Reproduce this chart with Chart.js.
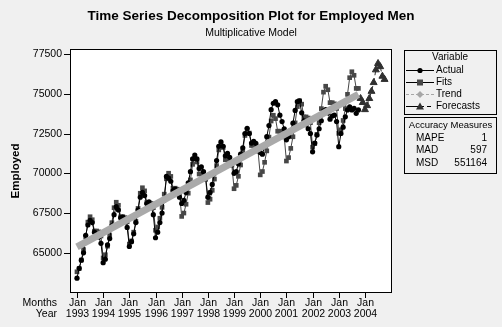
<!DOCTYPE html>
<html>
<head>
<meta charset="utf-8">
<script src="https://cdn.jsdelivr.net/npm/chart.js@4"></script>
<style>
  html, body { margin: 0; padding: 0; background: #f0f0f0; }
  #wrap { width: 502px; height: 327px; }
</style>
</head>
<body>
<div id="wrap"><canvas id="chart" width="502" height="327"></canvas></div>
<script>
// data (month index 0 = Jan 1993)
const actual = [
  63410, 64030, 64540, 65000, 66100, 66750, 67050, 66900, 66300, 66150, 66000, 65600,
  64380, 64600, 65500, 65900, 66700, 67400, 67900, 67700, 67200, 67250, 67000, 66600,
  65400, 65700, 66200, 66900, 67700, 68500, 68800, 68600, 68100, 68200, 67900, 67400,
  65950, 66300, 66900, 67500, 68300, 69800, 69700, 69500, 68900, 69000, 68800, 68500,
  68100, 68300, 68800, 69400, 70100, 70900, 71150, 70900, 70300, 70400, 70100, 69700,
  68500, 68800, 69300, 70000, 70800, 71700, 71980, 71700, 71100, 71250, 71000, 70700,
  70000, 70100, 70600, 71200, 71600, 72500, 72830, 72500, 71900, 72000, 71880, 71650,
  71300, 71200, 71700, 72300, 73000, 74000, 74400, 74500, 74300, 73650, 73250, 72800,
  72100, 72300, 72700, 73150, 73950, 74500, 74550, 73800, 73300, 73050, 72800, 72500,
  71350, 71900, 72400, 72800, 73300, 73900, 74000, 73800, 73400, 73600, 73650, 73250,
  71670, 72500, 72900, 73550, 73980, 74180, 73980, 74080, 73770, 73980
];
const fits = [
  63810, 64010, 64550, 65204, 66000, 66930, 67269, 67081, 66365, 66374, 66316, 66060,
  64680, 64880, 65420, 66091, 66897, 67837, 68181, 67989, 67262, 67271, 67211, 66950,
  65550, 65750, 66300, 66977, 67792, 68746, 69091, 68896, 68159, 68166, 68105, 67839,
  66420, 66625, 67175, 67863, 68689, 69653, 70003, 69804, 69056, 69063, 68999, 68729,
  67290, 67500, 68055, 68749, 69585, 70561, 70914, 70711, 69953, 69958, 69893, 69619,
  68160, 68370, 68930, 69636, 70481, 71469, 71825, 71619, 70850, 70855, 70788, 70509,
  69030, 69240, 69810, 70522, 71377, 72376, 72737, 72527, 71747, 71750, 71682, 71399,
  69900, 70110, 70690, 71408, 72273, 73284, 73647, 73434, 72643, 72646, 72576, 72288,
  70770, 70985, 71565, 72295, 73169, 74191, 74559, 74343, 73541, 73543, 73471, 73178,
  71640, 71860, 72445, 73180, 74065, 75099, 75470, 75251, 74438, 74438, 74364, 74069,
  72510, 72730, 73320, 74067, 74961, 76007, 76381, 76158, 75334, 75335
];
const trendEnds = [65375, 74960]; // linear trend at first and last month
const forecasts = [74700, 74450, 74000, 74250, 74700, 75150, 75700, 76500, 76900, 76700, 76100, 75900];
const years = ['1993', '1994', '1995', '1996', '1997', '1998', '1999', '2000', '2001', '2002', '2003', '2004'];
const yTicks = [65000, 67500, 70000, 72500, 75000, 77500];
const accuracy = [['MAPE', '1'], ['MAD', '597'], ['MSD', '551164']];

const FONT = '"Liberation Sans", Arial, sans-serif';

const actualPts = actual.map((v, i) => ({ x: i, y: v }));
const fitsPts = fits.map((v, i) => ({ x: i, y: v }));
const trendPts = [{ x: 0, y: trendEnds[0] }, { x: actual.length - 1, y: trendEnds[1] }];
const fcPts = forecasts.map((v, i) => ({ x: actual.length + i, y: v }));

// everything around the plot area is drawn here
const decor = {
  id: 'decor',
  beforeDraw(chart) {
    const ctx = chart.ctx, a = chart.chartArea;
    ctx.save();
    ctx.fillStyle = '#f0f0f0';
    ctx.fillRect(0, 0, chart.width, chart.height);
    ctx.fillStyle = '#ffffff';
    ctx.fillRect(a.left, a.top, a.right - a.left, a.bottom - a.top);
    ctx.restore();
  },
  afterDraw(chart) {
    const ctx = chart.ctx, a = chart.chartArea;
    const xs = chart.scales.x, ys = chart.scales.y;
    ctx.save();
    ctx.strokeStyle = '#000';
    ctx.lineWidth = 1;
    ctx.strokeRect(a.left + 0.5, a.top + 0.5, a.right - a.left - 1, a.bottom - a.top);

    ctx.fillStyle = '#000';
    ctx.font = '10.5px ' + FONT;
    // y ticks
    ctx.textAlign = 'right';
    ctx.textBaseline = 'middle';
    yTicks.forEach(v => {
      const py = Math.round(ys.getPixelForValue(v)) + 0.5;
      ctx.beginPath();
      ctx.moveTo(a.left - 6, py);
      ctx.lineTo(a.left, py);
      ctx.stroke();
      ctx.fillText(String(v), a.left - 8, py);
    });
    // x ticks
    ctx.textAlign = 'center';
    years.forEach((yr, i) => {
      const px = Math.round(xs.getPixelForValue(i * 12)) + 0.5;
      ctx.beginPath();
      ctx.moveTo(px, a.bottom);
      ctx.lineTo(px, a.bottom + 6);
      ctx.stroke();
      ctx.fillText('Jan', px, 303);
      ctx.fillText(yr, px, 314);
    });
    ctx.textAlign = 'right';
    ctx.fillText('Months', 57, 303);
    ctx.fillText('Year', 57, 314);

    // titles
    ctx.textAlign = 'center';
    ctx.font = 'bold 13.5px ' + FONT;
    ctx.fillText('Time Series Decomposition Plot for Employed Men', 251, 16);
    ctx.font = '10.5px ' + FONT;
    ctx.fillText('Multiplicative Model', 251, 33);

    ctx.save();
    ctx.translate(16, 171);
    ctx.rotate(-Math.PI / 2);
    ctx.font = 'bold 11.5px ' + FONT;
    ctx.fillText('Employed', 0, 0);
    ctx.restore();

    // legend box
    ctx.strokeRect(404.5, 50.5, 92, 64);
    ctx.strokeRect(404.5, 117.5, 92, 56);
    ctx.font = '10px ' + FONT;
    ctx.textAlign = 'center';
    ctx.fillText('Variable', 450, 57);

    const rows = [70.5, 82.5, 94.5, 106.5];
    ctx.textAlign = 'left';
    // Actual
    ctx.beginPath(); ctx.moveTo(406, rows[0]); ctx.lineTo(434, rows[0]); ctx.stroke();
    ctx.beginPath(); ctx.arc(420, rows[0], 2.6, 0, Math.PI * 2); ctx.fill();
    ctx.fillText('Actual', 436, rows[0]);
    // Fits
    ctx.beginPath(); ctx.moveTo(406, rows[1]); ctx.lineTo(434, rows[1]); ctx.stroke();
    ctx.fillStyle = '#474747';
    ctx.fillRect(417, rows[1] - 3, 6, 6);
    ctx.fillStyle = '#000';
    ctx.fillText('Fits', 436, rows[1]);
    // Trend
    ctx.strokeStyle = '#a6a6a6';
    ctx.setLineDash([3, 2]);
    ctx.beginPath(); ctx.moveTo(406, rows[2]); ctx.lineTo(434, rows[2]); ctx.stroke();
    ctx.setLineDash([]);
    ctx.fillStyle = '#a6a6a6';
    ctx.beginPath();
    ctx.moveTo(420, rows[2] - 3.5); ctx.lineTo(423.5, rows[2]);
    ctx.lineTo(420, rows[2] + 3.5); ctx.lineTo(416.5, rows[2]);
    ctx.closePath(); ctx.fill();
    ctx.fillStyle = '#000';
    ctx.strokeStyle = '#000';
    ctx.fillText('Trend', 436, rows[2]);
    // Forecasts
    ctx.beginPath(); ctx.moveTo(406, rows[3]); ctx.lineTo(424, rows[3]); ctx.stroke();
    ctx.beginPath(); ctx.moveTo(427, rows[3]); ctx.lineTo(431, rows[3]); ctx.stroke();
    ctx.fillStyle = '#303030';
    ctx.beginPath();
    ctx.moveTo(420, rows[3] - 4); ctx.lineTo(424, rows[3] + 3);
    ctx.lineTo(416, rows[3] + 3); ctx.closePath(); ctx.fill();
    ctx.fillStyle = '#000';
    ctx.fillText('Forecasts', 436, rows[3]);

    // accuracy measures
    ctx.textAlign = 'center';
    ctx.font = '9.5px ' + FONT;
    ctx.fillText('Accuracy Measures', 450.5, 125);
    ctx.font = '10px ' + FONT;
    accuracy.forEach((r, i) => {
      const py = 138 + i * 12.5;
      ctx.textAlign = 'left';
      ctx.fillText(r[0], 416, py);
      ctx.textAlign = 'right';
      ctx.fillText(r[1], 487, py);
    });
    ctx.restore();
  }
};

new Chart(document.getElementById('chart'), {
  type: 'line',
  data: {
    datasets: [
      {
        label: 'Trend', data: trendPts, order: 0,
        borderColor: '#aaaaaa', borderWidth: 7, pointRadius: 0
      },
      {
        label: 'Forecasts', data: fcPts, order: 1,
        borderColor: '#303030', borderWidth: 1, borderDash: [5, 3],
        pointStyle: 'triangle', pointRadius: 4,
        pointBackgroundColor: '#303030', pointBorderColor: '#303030'
      },
      {
        label: 'Actual', data: actualPts, order: 2,
        borderColor: '#000', borderWidth: 1,
        pointStyle: 'circle', pointRadius: 2.6, pointBorderWidth: 0,
        pointBackgroundColor: '#000'
      },
      {
        label: 'Fits', data: fitsPts, order: 3,
        borderColor: '#474747', borderWidth: 1,
        pointStyle: 'rect', pointRadius: 3.3, pointBorderWidth: 0,
        pointBackgroundColor: '#474747'
      }
    ]
  },
  options: {
    responsive: false,
    animation: false,
    events: [],
    layout: { padding: { left: 70, top: 49, right: 110, bottom: 35 } },
    plugins: { legend: { display: false }, tooltip: { enabled: false } },
    scales: {
      x: { type: 'linear', min: -3.2, max: 144.4, display: false },
      y: { type: 'linear', min: 62540, max: 77810, display: false }
    }
  },
  plugins: [decor]
});
</script>
</body>
</html>
